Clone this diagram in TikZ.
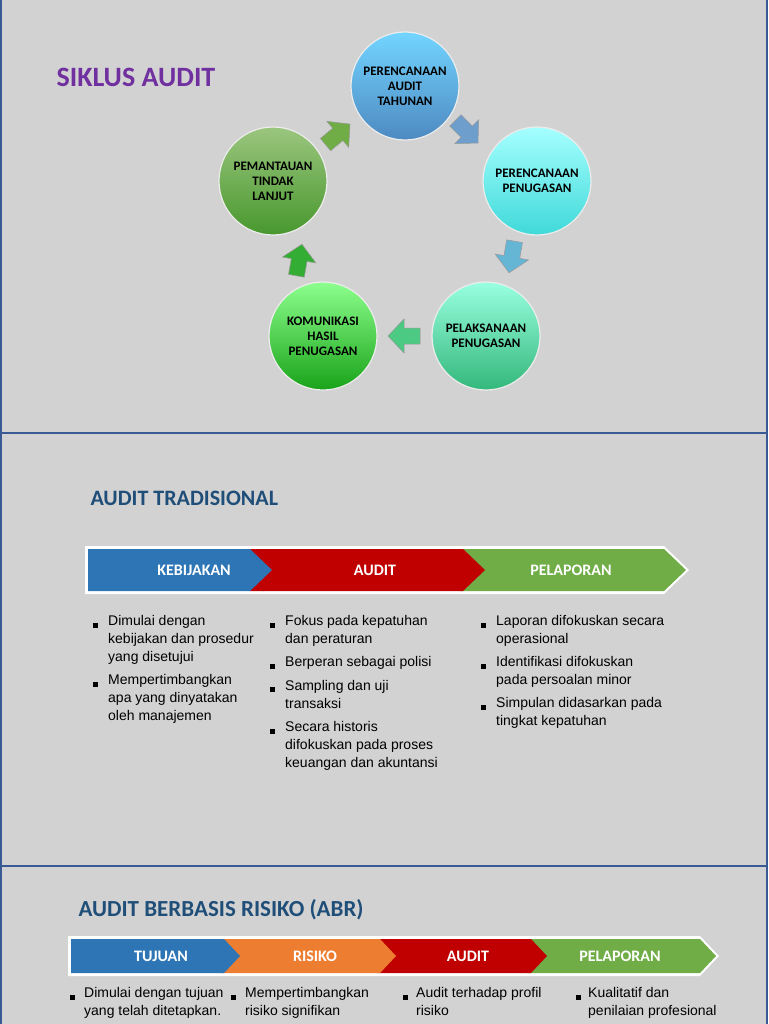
\documentclass[tikz,border=0pt]{standalone}
\usepackage{fontspec}
\setmainfont{Liberation Sans}
\newfontfamily\tfont{Carlito}
\begin{document}
\begin{tikzpicture}[x=1pt,y=-1pt,
  circ/.style={circle,minimum size=108pt,draw=white!85!gray,line width=1.2pt,align=center,inner sep=0pt,font=\tfont\bfseries\fontsize{13}{15}\selectfont},
  ttl/.style={anchor=west,font=\tfont\bfseries\fontsize{24}{28}\selectfont},
  chev/.style={font=\tfont\bfseries\fontsize{16}{18}\selectfont,text=white},
  item/.style={anchor=north west,align=left,inner sep=0pt,font=\fontsize{14}{18}\selectfont},
  blk/.style={draw=black!40,line width=0.5pt}]
\definecolor{bg}{HTML}{D3D2D2}
\definecolor{edge}{HTML}{3A5A96}
\definecolor{cblue}{HTML}{2E75B6}
\definecolor{cred}{HTML}{C00000}
\definecolor{cgreen}{HTML}{70AD47}
\definecolor{corange}{HTML}{ED7D31}
\definecolor{navy}{HTML}{1F4E79}
\definecolor{purp}{HTML}{7030A0}
\fill[bg] (0,0) rectangle (768,1024);
\useasboundingbox (0,0) rectangle (768,1024);
\draw[edge,line width=1.5pt] (1,0)--(1,1024) (767,0)--(767,1024) (0,433)--(768,433) (0,866)--(768,866);
% panel 1
\node[ttl,text=purp,font=\tfont\bfseries\fontsize{28}{30}\selectfont] (t1) at (53,77) {SIKLUS AUDIT};
\node[circ,top color=blue!30!cyan!55!white,bottom color=cblue!85!white] (c1) at (405,86) {PERENCANAAN\\AUDIT\\TAHUNAN};
\node[circ,top color=cyan!35!white,bottom color=cyan!60!teal!75!white] (c2) at (537,181) {PERENCANAAN\\PENUGASAN};
\node[circ,top color=green!30!cyan!40!white,bottom color=teal!70!green!80!white] (c3) at (486,336) {PELAKSANAAN\\PENUGASAN};
\node[circ,top color=green!45!white,bottom color=green!60!black!90!white] (c4) at (323,336) {KOMUNIKASI\\HASIL\\PENUGASAN};
\node[circ,top color=cgreen!70!white,bottom color=cgreen!80!green!80!black] (c5) at (273,181) {PEMANTAUAN\\TINDAK\\LANJUT};
\foreach \n/\x/\y/\a/\c in {a1/466/131/-45/cblue!70!white, a2/512/256/-100/cyan!55!teal!70!white, a3/405/336/180/teal!60!green!70!white, a4/299/261/80/green!60!black!80!white, a5/337/135/40/cgreen}{
  \begin{scope}[shift={(\x,\y)},rotate=\a]
  \fill[\c,blk] (-15,-8)--(1,-8)--(1,-17)--(17,0)--(1,17)--(1,8)--(-15,8)--cycle;
  \coordinate (\n) at (0,0);
  \end{scope}}
% panel 2
\node[ttl,text=navy,font=\tfont\bfseries\fontsize{22}{26}\selectfont] (t2) at (87,498) {AUDIT TRADISIONAL};
\fill[white] (85,546)--(664,546)--(689,570)--(664,594)--(85,594)--cycle;
\fill[cgreen] (460,549)--(664,549)--(686,570)--(664,591)--(460,591)--cycle;
\fill[cred] (250,549)--(463,549)--(485,570)--(463,591)--(250,591)--cycle;
\fill[cblue] (88,549)--(250,549)--(272,570)--(250,591)--(88,591)--cycle;
\node[chev] (k1) at (194,570) {KEBIJAKAN};
\node[chev] (k2) at (375,570) {AUDIT};
\node[chev] (k3) at (571,570) {PELAPORAN};
\foreach \bx/\by in {95/625,95/684,272/625,272/666,272/689,272/731,483/625,483/666,483/707}
  \fill (\bx-2.5,\by-2.5) rectangle (\bx+2.5,\by+2.5);
\node[item] (i1) at (108,615) {Dimulai dengan\\kebijakan dan prosedur\\yang disetujui};
\node[item] (i2) at (108,674) {Mempertimbangkan\\apa yang dinyatakan\\oleh manajemen};
\node[item] (i3) at (285,615) {Fokus pada kepatuhan\\dan peraturan};
\node[item] (i4) at (285,656) {Berperan sebagai polisi};
\node[item] (i5) at (285,680) {Sampling dan uji\\transaksi};
\node[item] (i6) at (285,721) {Secara historis\\difokuskan pada proses\\keuangan dan akuntansi};
\node[item] (i7) at (496,615) {Laporan difokuskan secara\\operasional};
\node[item] (i8) at (496,656) {Identifikasi difokuskan\\pada persoalan minor};
\node[item] (i9) at (496,697) {Simpulan didasarkan pada\\tingkat kepatuhan};
% panel 3
\node[ttl,text=navy,font=\tfont\bfseries\fontsize{23}{26}\selectfont] (t3) at (75,910) {AUDIT BERBASIS RISIKO (ABR)};
\fill[white] (68,936)--(700,936)--(719,956)--(700,976)--(68,976)--cycle;
\fill[cgreen] (527,939)--(700,939)--(716,956)--(700,973)--(527,973)--cycle;
\fill[cred] (377,939)--(531,939)--(547,956)--(531,973)--(377,973)--cycle;
\fill[corange] (222,939)--(380,939)--(396,956)--(380,973)--(222,973)--cycle;
\fill[cblue] (71,939)--(224,939)--(240,956)--(224,973)--(71,973)--cycle;
\node[chev] (r1) at (161,956) {TUJUAN};
\node[chev] (r2) at (315,956) {RISIKO};
\node[chev] (r3) at (468,956) {AUDIT};
\node[chev] (r4) at (620,956) {PELAPORAN};
\foreach \bx in {72,233,405,578}
  \fill (\bx-2.5,994.5) rectangle (\bx+2.5,999.5);
\node[item] (j1) at (84,987) {Dimulai dengan tujuan\\yang telah ditetapkan.};
\node[item] (j2) at (245,987) {Mempertimbangkan\\risiko signifikan};
\node[item] (j3) at (416,987) {Audit terhadap profil\\risiko};
\node[item] (j4) at (588,987) {Kualitatif dan\\penilaian profesional};
\end{tikzpicture}
\end{document}
